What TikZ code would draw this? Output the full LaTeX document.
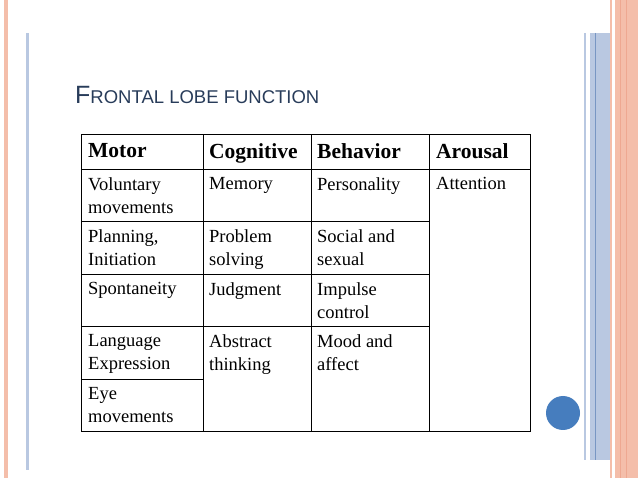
\documentclass[tikz,border=0pt]{standalone}
\usepackage{fontspec}
\setmainfont{Liberation Serif}
\newfontfamily\titlefont{Liberation Sans}
\definecolor{salmon}{RGB}{244,190,170}
\definecolor{salmonD}{RGB}{238,168,145}
\definecolor{bluegray}{RGB}{185,200,225}
\definecolor{bluegrayD}{RGB}{120,150,195}
\definecolor{dotblue}{RGB}{70,125,190}
\definecolor{titleblue}{RGB}{40,60,90}
\begin{document}
\begin{tikzpicture}[x=1pt,y=-1pt,
  cell/.style={anchor=north west,inner sep=0pt,align=left,font=\fontsize{18.5}{23}\selectfont},
  head/.style={anchor=north west,inner sep=0pt,font=\fontsize{21.5}{24}\selectfont\bfseries},
  grid/.style={line width=1pt,black}]
\useasboundingbox (0,0) rectangle (638,478);
\fill[white] (0,0) rectangle (638,478);
% decorative stripes
\fill[salmon] (4,0) rectangle (8,478);
\fill[bluegray] (26,33) rectangle (29,470);
\fill[bluegray] (584,33) rectangle (586,460);
\fill[bluegray] (590,33) rectangle (610,460);
\draw[bluegrayD,line width=0.8pt] (595,33) -- (595,460);
\fill[salmon] (610,0) rectangle (612,478);
\fill[salmon] (615,0) rectangle (638,478);
\draw[salmonD,line width=1pt] (620,0) -- (620,478);
\draw[salmonD,line width=1pt] (626,0) -- (626,478);
\fill[dotblue] (563,413) circle (17);
% title
\node[anchor=base west,inner sep=0pt,text=titleblue,font=\titlefont] (title) at (75,104)
  {\fontsize{25}{26}\selectfont F\fontsize{18.5}{20}\selectfont RONTAL LOBE FUNCTION};
% table grid
\draw[grid] (81,135) rectangle (530,432);
\foreach \x in {203,311,429} \draw[grid] (\x,135) -- (\x,432);
\draw[grid] (81,170) -- (530,170);
\foreach \y in {222,275,327} \draw[grid] (81,\y) -- (429,\y);
\draw[grid] (81,380) -- (203,380);
% header
\node[head] (h1) at (88,143) {Motor};
\node[head] (h2) at (209,143) {Cognitive};
\node[head] (h3) at (317,143) {Behavior};
\node[head] (h4) at (436,143) {Arousal};
% cells
\node[cell] (m1) at (88,177) {Voluntary\\movements};
\node[cell] (m2) at (88,229) {Planning,\\Initiation};
\node[cell] (m3) at (88,282) {Spontaneity};
\node[cell] (m4) at (88,334) {Language\\Expression};
\node[cell] (m5) at (88,387) {Eye\\movements};
\node[cell] (c1) at (209,177) {Memory};
\node[cell] (c2) at (209,229) {Problem\\solving};
\node[cell] (c3) at (209,282) {Judgment};
\node[cell] (c4) at (209,334) {Abstract\\thinking};
\node[cell] (b1) at (317,177) {Personality};
\node[cell] (b2) at (317,229) {Social and\\sexual};
\node[cell] (b3) at (317,282) {Impulse\\control};
\node[cell] (b4) at (317,334) {Mood and\\affect};
\node[cell] (a1) at (436,177) {Attention};
\end{tikzpicture}
\end{document}
